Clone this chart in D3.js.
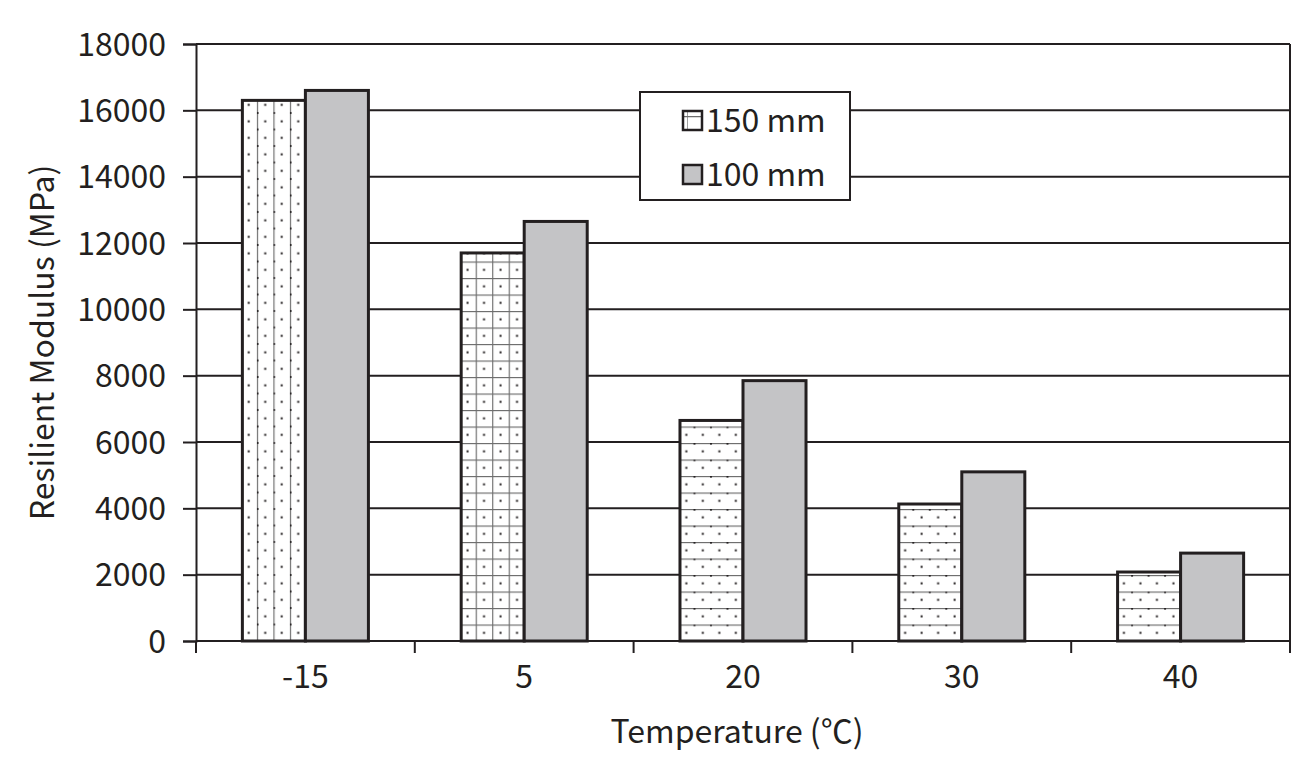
<!DOCTYPE html>
<html><head><meta charset="utf-8">
<script src="https://cdn.jsdelivr.net/npm/d3@7"></script>
<style>
body{margin:0;background:#fff;}
text{font-family:"Noto Sans CJK KR","Noto Sans",sans-serif;fill:#231f20;font-weight:400;}
</style></head>
<body><svg id="c" width="1316" height="762"></svg>
<script>
const categories = ["-15","5","20","30","40"];
const series = ["150 mm","100 mm"];
const values150 = [16300, 11700, 6650, 4130, 2080];
const values100 = [16600, 12650, 7850, 5100, 2650];
const yTicks = [0,2000,4000,6000,8000,10000,12000,14000,16000,18000];
const patternKinds = ["vert","grid","horiz","horiz","horiz"];

const W=1316,H=762;
const m={left:196,right:1290,top:44,bottom:641};
const svg=d3.select("#c");
const x=d3.scaleBand().domain(categories).range([m.left,m.right]).paddingInner(0).paddingOuter(0);
const xs=d3.scaleBand().domain(series).range([0,x.bandwidth()]).paddingInner(0).paddingOuter(0.736);
const y=d3.scaleLinear().domain([0,18000]).range([m.bottom,m.top]);
const ink="#231f20";
const FS="32px";

// patterns
const defs=svg.append("defs");
const cell=16.5;
categories.forEach((c,i)=>{
  const kind=patternKinds[i];
  const px=x(c)+xs("150 mm");
  const p=defs.append("pattern").attr("id","pat"+i).attr("patternUnits","userSpaceOnUse")
    .attr("width",cell).attr("height",cell).attr("x",px-2).attr("y",y(0));
  p.append("rect").attr("width",cell).attr("height",cell).attr("fill","#fff");
  if(kind==="vert"||kind==="grid"){
    p.append("line").attr("x1",0.5).attr("x2",0.5).attr("y1",0).attr("y2",cell).attr("stroke","#6d6d6d").attr("stroke-width",1.3);
  }
  if(kind==="horiz"||kind==="grid"){
    p.append("line").attr("x1",0).attr("x2",cell).attr("y1",0.5).attr("y2",0.5).attr("stroke","#6d6d6d").attr("stroke-width",1.3);
  }
  p.append("rect").attr("x",cell/2-0.9).attr("y",cell/2-0.9).attr("width",2).attr("height",2).attr("fill",ink);
  if(kind==="vert"){
    p.append("rect").attr("x",-0.4).attr("y",-1).attr("width",2).attr("height",2).attr("fill",ink);
    p.append("rect").attr("x",-0.4).attr("y",cell-1).attr("width",2).attr("height",2).attr("fill",ink);
  }
  if(kind==="horiz"){
    p.append("rect").attr("x",-1).attr("y",-0.4).attr("width",2).attr("height",2).attr("fill",ink);
    p.append("rect").attr("x",cell-1).attr("y",-0.4).attr("width",2).attr("height",2).attr("fill",ink);
  }
});
// legend pattern
const lp=defs.append("pattern").attr("id","patL").attr("patternUnits","userSpaceOnUse").attr("width",40).attr("height",40).attr("x",687).attr("y",-4);
lp.append("rect").attr("width",40).attr("height",40).attr("fill","#fff");
lp.append("line").attr("x1",0).attr("x2",0).attr("y1",0).attr("y2",40).attr("stroke","#6d6d6d").attr("stroke-width",1.3);
lp.append("line").attr("x1",0).attr("x2",40).attr("y1",0.5).attr("y2",0.5).attr("stroke","#6d6d6d").attr("stroke-width",1.3);
lp.append("rect").attr("x",9).attr("y",-7).attr("width",2).attr("height",2).attr("fill",ink);

// gridlines
svg.append("g").selectAll("line").data(yTicks.filter(d=>d>0)).join("line")
  .attr("x1",m.left).attr("x2",m.right).attr("y1",d=>y(d)).attr("y2",d=>y(d))
  .attr("stroke",ink).attr("stroke-width",2);
// right border
svg.append("line").attr("x1",m.right).attr("x2",m.right).attr("y1",m.top).attr("y2",m.bottom).attr("stroke",ink).attr("stroke-width",2);

// bars
const g=svg.append("g");
categories.forEach((c,i)=>{
  g.append("rect").attr("x",x(c)+xs("150 mm")).attr("y",y(values150[i])).attr("width",xs.bandwidth())
   .attr("height",y(0)-y(values150[i])).attr("fill","url(#pat"+i+")").attr("stroke",ink).attr("stroke-width",3);
  g.append("rect").attr("x",x(c)+xs("100 mm")).attr("y",y(values100[i])).attr("width",xs.bandwidth())
   .attr("height",y(0)-y(values100[i])).attr("fill","#c4c4c6").attr("stroke",ink).attr("stroke-width",3);
});

// y axis
const ya=svg.append("g").attr("transform",`translate(${m.left},0)`)
  .call(d3.axisLeft(y).tickValues(yTicks).tickSize(13).tickPadding(17).tickFormat(d3.format("d")));
ya.select(".domain").attr("stroke",ink).attr("stroke-width",2);
ya.selectAll(".tick line").attr("stroke",ink).attr("stroke-width",2);
ya.selectAll("text").style("font-size",FS).attr("fill",ink).attr("dy","0.35em");

// x axis
const xa=svg.append("g").attr("transform",`translate(0,${m.bottom})`)
  .call(d3.axisBottom(x).tickSize(0).tickPadding(24));
xa.select(".domain").attr("stroke",ink).attr("stroke-width",2).attr("d",`M${m.left},0H${m.right}`);
xa.selectAll("text").style("font-size",FS).attr("fill",ink).attr("dy","0.71em");
// boundary ticks
const bounds=categories.map(c=>x(c)).concat([m.right]);
xa.selectAll(".bt").data(bounds).join("line").attr("class","bt")
  .attr("x1",d=>d).attr("x2",d=>d).attr("y1",0).attr("y2",12).attr("stroke",ink).attr("stroke-width",2);

// axis titles
svg.append("text").attr("transform",`translate(54,${(m.top+m.bottom)/2}) rotate(-90)`)
  .attr("text-anchor","middle").style("font-size",FS).text("Resilient Modulus (MPa)");
svg.append("text").attr("x",737).attr("y",743)
  .attr("text-anchor","middle").style("font-size",FS).text("Temperature (℃)");

// legend
const lg=svg.append("g");
lg.append("rect").attr("x",640).attr("y",92).attr("width",210).attr("height",108).attr("fill","#fff").attr("stroke",ink).attr("stroke-width",2);
const legFills=["url(#patL)","#c4c4c6"];
series.forEach((s,i)=>{
  const cy=120+i*54;
  lg.append("rect").attr("x",683).attr("y",cy-9).attr("width",19).attr("height",19).attr("fill",legFills[i]).attr("stroke",ink).attr("stroke-width",2.5);
  lg.append("text").attr("x",706).attr("y",cy).attr("dy","0.36em").style("font-size",FS).text(s);
});
</script></body></html>
